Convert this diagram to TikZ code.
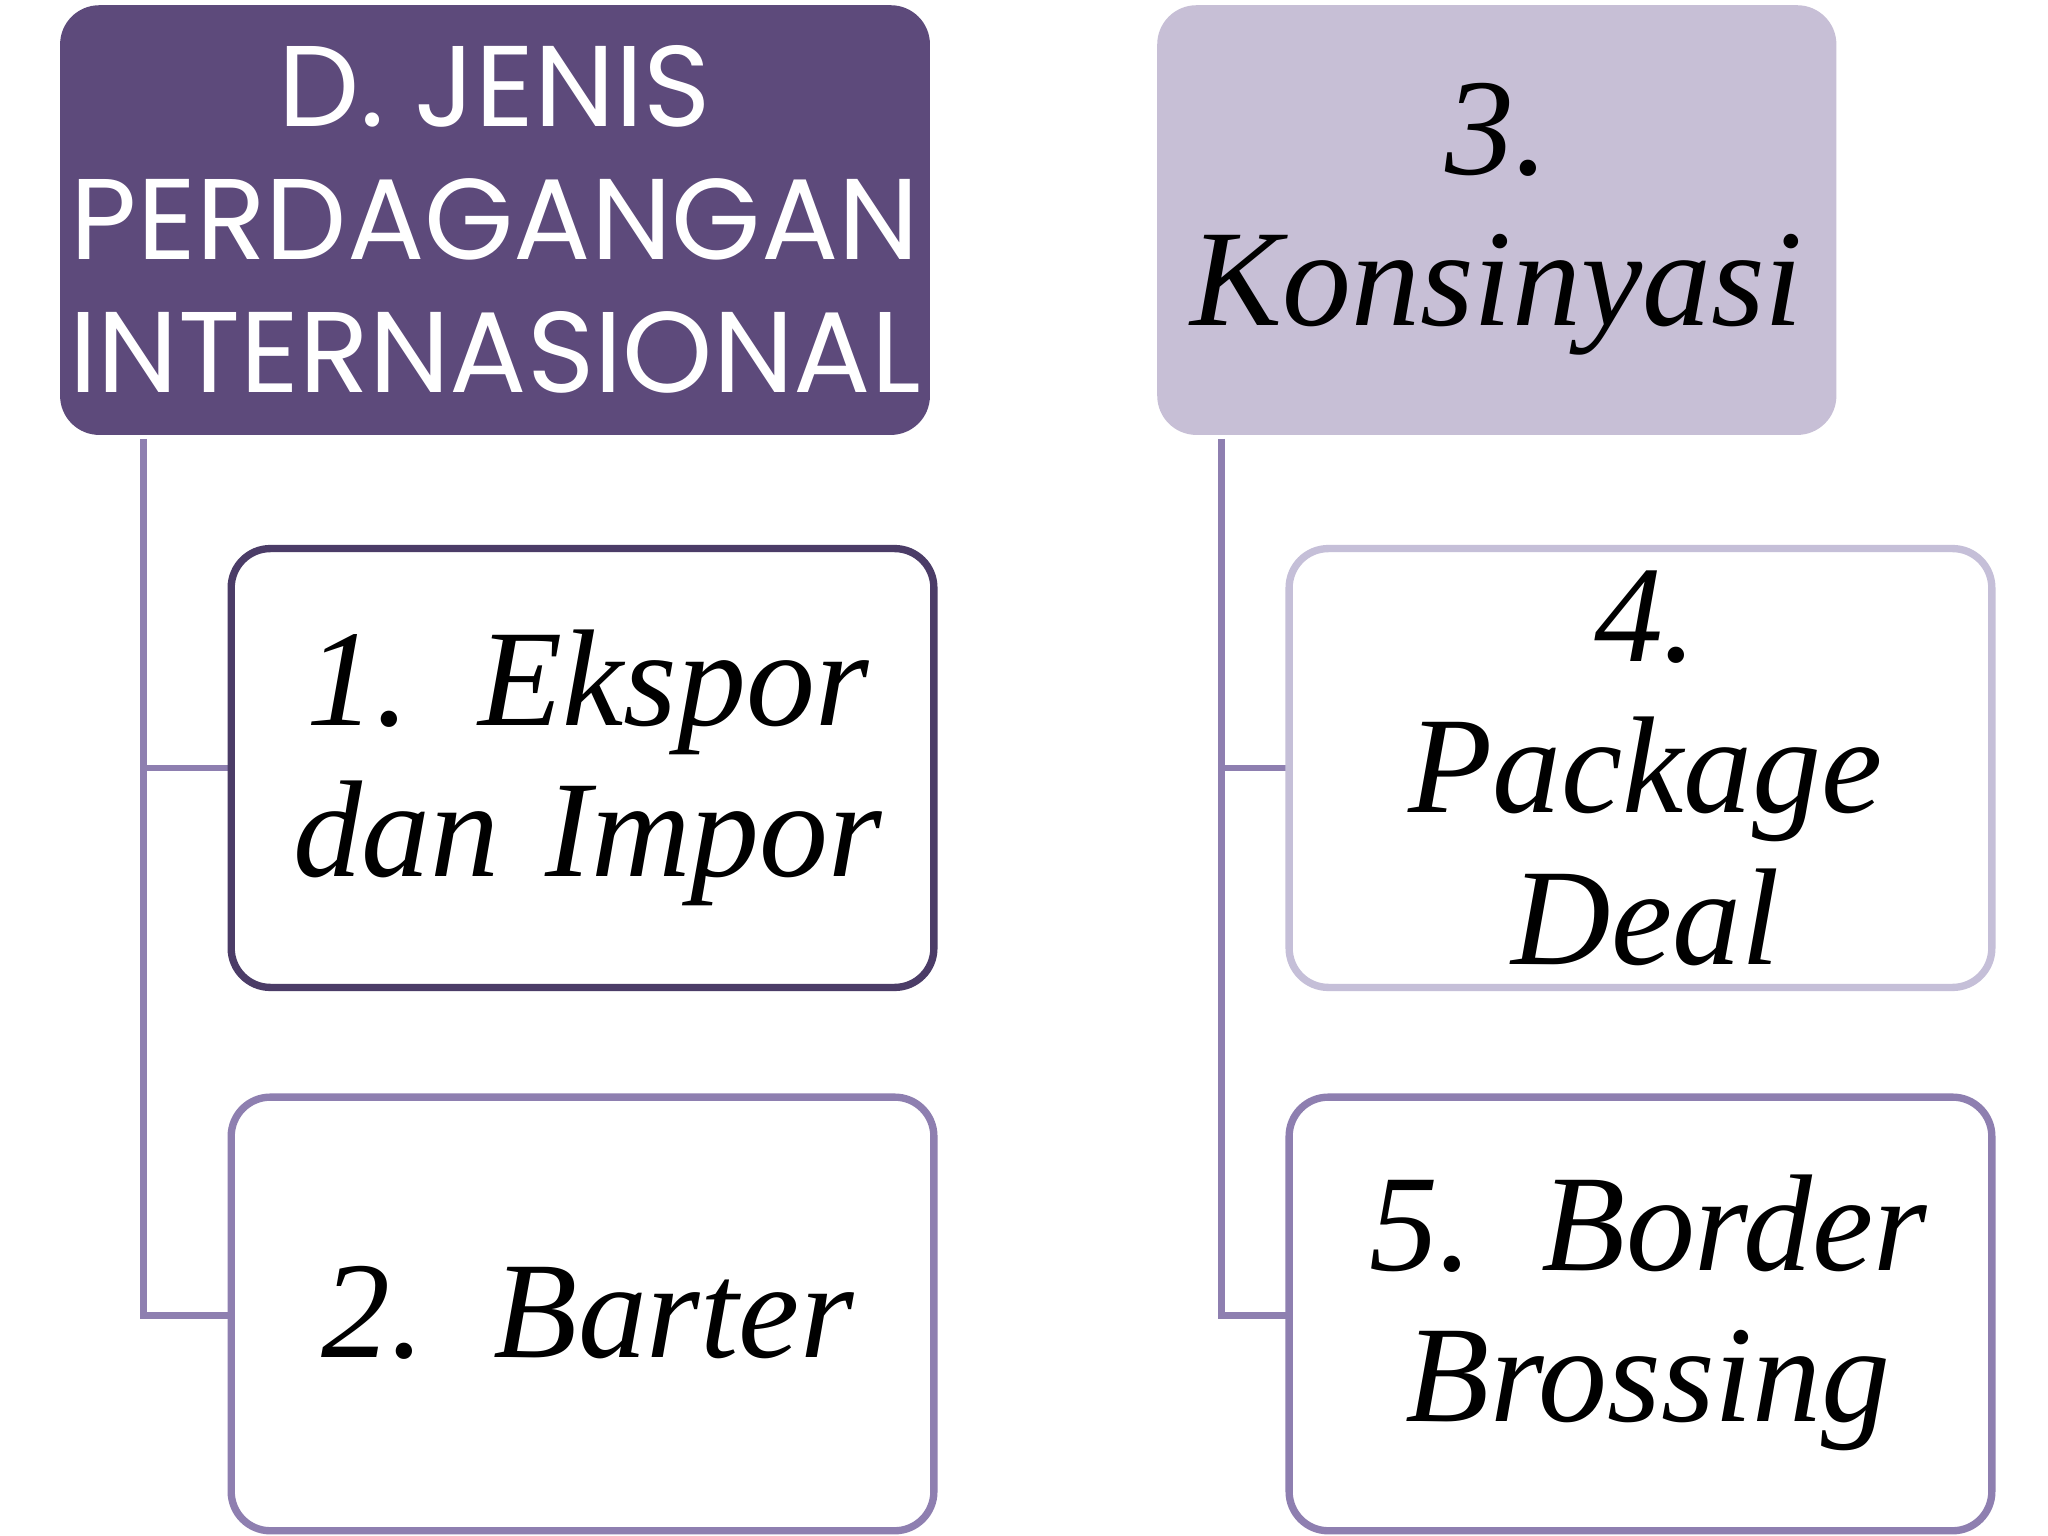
\documentclass[tikz,border=0pt]{standalone}
\usepackage{fontspec}
\setmainfont{Liberation Serif}
\newfontfamily\headfont{Poppins}
\definecolor{dpurple}{RGB}{93,74,123}
\definecolor{lpurple}{RGB}{199,191,214}
\definecolor{mline}{RGB}{142,127,176}
\definecolor{dline}{RGB}{75,60,103}
\definecolor{lline}{RGB}{197,191,216}
\begin{document}
\begin{tikzpicture}[x=0.01cm,y=-0.01cm,
  box/.style={rounded corners=0.3cm,line width=1.6pt,fill=white,inner sep=0pt},
  conn/.style={line width=1.5pt,draw=mline},
  txt/.style={font=\fontsize{30}{33}\selectfont\itshape,align=center,text width=5cm}]
\useasboundingbox (0,0) rectangle (1568,1176);
\clip (0,0) rectangle (1568,1176);
\fill[white] (0,0) rectangle (1568,1176);
\fill[rounded corners=0.3cm,fill=dpurple] (46,4) rectangle (712,333);
\node[font=\headfont\fontsize{25}{29}\selectfont,text=white,align=center] (h1) at (379,168) {D. JENIS\\PERDAGANGAN\\INTERNASIONAL};
\fill[rounded corners=0.3cm,fill=lpurple] (886,4) rectangle (1406,333);
\node[txt] (h2) at (1146,168) {3.\\Konsinyasi};
\coordinate (l0) at (110,336); \coordinate (r0) at (935,336);
\draw[conn] (l0) |- (177,1007);
\draw[conn] (110,588) -- (177,588);
\draw[conn] (r0) |- (987,1007);
\draw[conn] (935,588) -- (987,588);
\draw[box,draw=dline] (177,420) rectangle (715,756);
\draw[box,draw=mline] (177,840) rectangle (715,1172);
\draw[box,draw=lline] (987,420) rectangle (1525,756);
\draw[box,draw=mline] (987,840) rectangle (1525,1172);
\node[txt] (b1) at (450,588) {1. Ekspor\\dan Impor};
\node[txt] (b2) at (450,1005) {2. Barter};
\node[txt] (b4) at (1260,588) {4.\\Package\\Deal};
\node[txt] (b5) at (1262,1005) {5. Border\\Brossing};
\end{tikzpicture}
\end{document}
